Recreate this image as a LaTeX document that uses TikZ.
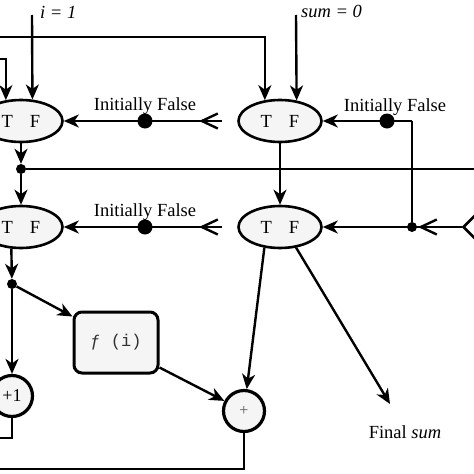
\documentclass[tikz,border=0pt]{standalone}
\usepackage{fontspec}
\setmainfont{Liberation Serif}
\newfontfamily\monof{Liberation Mono}
\usetikzlibrary{arrows.meta,shapes.geometric}
\begin{document}
\begin{tikzpicture}[x=1pt,y=-1pt,
  wire/.style={line width=2.4pt},
  arr/.style={wire,-{Stealth[length=15pt,width=13pt,inset=4.5pt]}},
  barb/.style={wire,-{Straight Barb[length=16pt,width=15pt]}},
  gate/.style={ellipse,draw,line width=2.6pt,fill=gray!8,minimum width=83pt,minimum height=42pt,inner sep=0pt,font=\fontsize{18.5}{18.5}\selectfont},
  circ/.style={circle,draw,line width=3.2pt,fill=gray!8,minimum size=41pt,inner sep=0pt},
  fbox/.style={rectangle,rounded corners=8pt,draw,line width=3pt,fill=gray!8,minimum width=84pt,minimum height=61pt,inner sep=0pt},
  token/.style={circle,fill=black,minimum size=15pt,inner sep=0pt},
  junc/.style={circle,fill=black,minimum size=10pt,inner sep=0pt},
  lbl/.style={inner sep=0pt,font=\fontsize{18.5}{18.5}\selectfont}
]
\useasboundingbox (0,0) rectangle (474,474);
\clip (0,0) rectangle (474,474);
\fill[white] (0,0) rectangle (474,474);

% gates
\node[gate] (A1) at (21,121) {T\hspace{17pt}F};
\node[gate] (A2) at (21,227) {T\hspace{17pt}F};
\node[gate] (B1) at (280,121) {T\hspace{17pt}F};
\node[gate] (B2) at (280,227) {T\hspace{17pt}F};
\node[circ] (P1) at (12,396) {\fontsize{18}{18}\selectfont +1};
\node[circ] (S) at (244,411) {\fontsize{16}{16}\selectfont\color{gray!70!black}+};
\node[fbox] (F) at (116,342.5) {\monof\fontsize{17}{17}\selectfont\color{black!80} ƒ (i)};
\node[diamond,draw,line width=2.6pt,fill=white,minimum size=44pt,inner sep=0pt] (D) at (485,227) {};

% dots
\node[junc] (d1) at (21,169) {};
\node[junc] (d2) at (12,284) {};
\node[junc] (j2) at (412,227) {};
\node[token] (k1) at (145,121) {};
\node[token] (k2) at (145,227) {};
\node[token] (k3) at (387,121) {};

% free ends
\coordinate (lA) at (0,59);
\coordinate (top) at (0,37);
\coordinate (iin) at (32,15);
\coordinate (sin) at (296,15);
\coordinate (r1) at (474,169);
\coordinate (c1) at (222,121);
\coordinate (c1b) at (199,121);
\coordinate (c2) at (222,227);
\coordinate (c2b) at (199,227);
\coordinate (j1) at (412,121);
\coordinate (j2b) at (418,227);
\coordinate (lb) at (0,438);
\coordinate (sb) at (0,469);
\coordinate (fin) at (390,404);

% connectors
\draw[arr] (lA) -| (A1.126.8);
\draw[arr] (top) -| (B1.126.8);
\draw[arr] (iin) -- (A1.62);
\draw[arr] (sin) -- (B1.51.2);
\draw[arr] (A1.south) -- (d1);
\draw[arr] (d1) -- (A2.north);
\draw[wire] (d1) -- (r1);
\draw[arr] (A2.246.8) -- (d2);
\draw[arr] (d2) -- (P1);
\draw[arr] (d2) -- ([yshift=-6pt]F.north west);
\draw[arr] ([yshift=7pt]F.south east) -- (S);
\draw[line width=2pt] (P1.south) |- (lb);
\draw[wire] (S.south) |- (sb);
\draw[arr] (B1.south) -- (B2.north);
\draw[arr] (B2.233.2) -- (S);
\draw[arr] (B2.308.8) -- (fin);
\draw[arr] (c1) -- (A1.east);
\draw[barb] (c1) -- (c1b);
\draw[arr] (c2) -- (A2.east);
\draw[barb] (c2) -- (c2b);
\draw[arr] (j1) -- (B1.east);
\draw[wire] (j1) -- (j2);
\draw[arr] (D.west) -- (B2.east);
\draw[barb] (D.west) -- (j2b);

% labels
\node[lbl] (t1) at (145,106) {Initially False};
\node[lbl] (t2) at (145,212) {Initially False};
\node[lbl] (t3) at (395,107) {Initially False};
\node[lbl,anchor=west] (li) at (40,12) {\textit{i = 1}};
\node[lbl,anchor=west] (ls) at (301,11) {\textit{sum = 0}};
\node[lbl] (lf) at (405,432) {Final \textit{sum}};
\end{tikzpicture}
\end{document}
